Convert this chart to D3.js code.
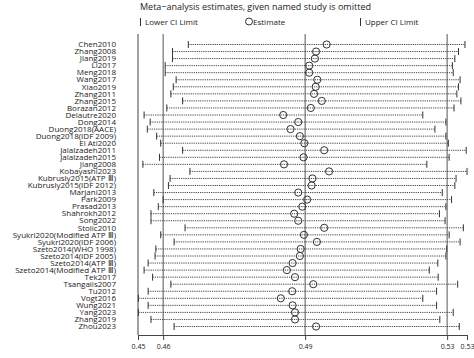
<!DOCTYPE html>
<html><head><meta charset="utf-8">
<script src="https://cdn.jsdelivr.net/npm/d3@7/dist/d3.min.js"></script>
<style>body{margin:0;background:#fff}svg{display:block}text{font-family:"Open Sans",sans-serif;fill:#222}</style>
</head><body><svg id="c" width="474" height="358"></svg>
<script>
const studies = ["Chen2010","Zhang2008","Jiang2019","Li2017","Meng2018","Wang2017","Xiao2019","Zhang2011","Zhang2015","Borazan2012","Delautre2020","Dong2014","Duong2018(AACE)","Duong2018(IDF 2009)","El Ati2020","Jalalzadeh2011","Jalalzadeh2015","Jiang2008","Kobayashi2023","Kubrusly2015(ATP Ⅲ)","Kubrusly2015(IDF 2012)","Marjani2013","Park2009","Prasad2013","Shahrokh2012","Song2022","Stolic2010","Syukri2020(Modified ATP Ⅲ)","Syukri2020(IDF 2006)","Szeto2014(WHO 1998)","Szeto2014(IDF 2005)","Szeto2014(ATP Ⅲ)","Szeto2014(Modified ATP Ⅲ)","Tek2017","Tsangalis2007","Tu2012","Vogt2016","Wung2021","Yang2023","Zhang2019","Zhou2023"];
const estimate = [0.4993,0.4967,0.4964,0.4950,0.4950,0.4970,0.4966,0.4962,0.4981,0.4954,0.4886,0.4923,0.4904,0.4927,0.4938,0.4987,0.4936,0.4888,0.4999,0.4958,0.4956,0.4923,0.4945,0.4933,0.4913,0.4923,0.4987,0.4937,0.4969,0.4929,0.4927,0.4909,0.4895,0.4915,0.4960,0.4908,0.4880,0.4909,0.4915,0.4915,0.4967];
const lower = [0.4652,0.4613,0.4613,0.4595,0.4595,0.4622,0.4615,0.4609,0.4638,0.4599,0.4543,0.4558,0.4551,0.4574,0.4584,0.4638,0.4581,0.4540,0.4656,0.4607,0.4603,0.4567,0.4590,0.4578,0.4560,0.4560,0.4644,0.4584,0.4617,0.4572,0.4570,0.4553,0.4543,0.4564,0.4609,0.4553,0.4529,0.4553,0.4529,0.4560,0.4617];
const upper = [0.5334,0.5318,0.5309,0.5303,0.5305,0.5322,0.5318,0.5314,0.5324,0.5307,0.5230,0.5287,0.5260,0.5287,0.5293,0.5337,0.5295,0.5240,0.5339,0.5312,0.5309,0.5278,0.5301,0.5287,0.5271,0.5285,0.5330,0.5295,0.5322,0.5289,0.5287,0.5267,0.5246,0.5268,0.5316,0.5264,0.5230,0.5264,0.5305,0.5272,0.5320];
const overall = {lower:0.459, estimate:0.494, upper:0.529};
const tickValues = [0.4528,0.459,0.494,0.529,0.5339];
const tickLabels = ["0.45","0.46","0.49","0.53","0.53"];

const svg = d3.select("#c");
const x = d3.scaleLinear().domain([0.4528,0.5339]).range([138,467]);
const y = d3.scalePoint().domain(studies).range([44,326]);
const plotTop = 34, axisY = 335;

svg.append("text").attr("x",140).attr("y",10).attr("font-size",9).text("Meta\u2212analysis estimates, given named study is omitted");

// legend
const lg = svg.append("g");
lg.append("line").attr("x1",140.5).attr("x2",140.5).attr("y1",18).attr("y2",26).attr("stroke","#333");
lg.append("text").attr("x",145).attr("y",25).attr("font-size",8).text("Lower CI Limit");
lg.append("circle").attr("cx",249).attr("cy",21.5).attr("r",3.5).attr("fill","none").attr("stroke","#333");
lg.append("text").attr("x",253).attr("y",25).attr("font-size",8).text("Estimate");
lg.append("line").attr("x1",360.5).attr("x2",360.5).attr("y1",18).attr("y2",26).attr("stroke","#333");
lg.append("text").attr("x",365).attr("y",25).attr("font-size",8).text("Upper CI Limit");

// y axis line & reference lines
svg.append("line").attr("x1",x(tickValues[0])).attr("x2",x(tickValues[0])).attr("y1",plotTop).attr("y2",axisY).attr("stroke","#444");
[overall.lower, overall.estimate, overall.upper].forEach(v=>{
  svg.append("line").attr("x1",x(v)).attr("x2",x(v)).attr("y1",plotTop).attr("y2",axisY).attr("stroke","#555");
});

const rows = svg.append("g").selectAll("g").data(studies).join("g");
rows.append("line").attr("x1",(d,i)=>x(lower[i])).attr("x2",(d,i)=>x(upper[i]))
  .attr("y1",d=>y(d)+0.5).attr("y2",d=>y(d)+0.5).attr("stroke","#444").attr("stroke-width",1).attr("stroke-dasharray","1.2,1");
rows.append("line").attr("x1",(d,i)=>x(lower[i])).attr("x2",(d,i)=>x(lower[i]))
  .attr("y1",d=>y(d)-3).attr("y2",d=>y(d)+4).attr("stroke","#333");
rows.append("line").attr("x1",(d,i)=>x(upper[i])).attr("x2",(d,i)=>x(upper[i]))
  .attr("y1",d=>y(d)-3).attr("y2",d=>y(d)+4).attr("stroke","#333");
rows.append("circle").attr("cx",(d,i)=>x(estimate[i])).attr("cy",d=>y(d)+0.5).attr("r",3.6)
  .attr("fill","none").attr("stroke","#333").attr("stroke-width",1);
rows.append("text").attr("x",116).attr("y",d=>y(d)+3.2).attr("text-anchor","end").attr("font-size",8).text(d=>d);

// x axis
const ax = d3.axisBottom(x).tickValues(tickValues).tickFormat((d,i)=>tickLabels[i]).tickSize(5).tickSizeOuter(0);
const g = svg.append("g").attr("transform",`translate(0,${axisY})`).call(ax);
g.select(".domain").attr("stroke","#444");
g.selectAll(".tick line").attr("stroke","#444");
g.selectAll(".tick text").attr("font-size",7).attr("font-family","Open Sans, sans-serif").attr("fill","#222").attr("dy","0.9em");
</script></body></html>
